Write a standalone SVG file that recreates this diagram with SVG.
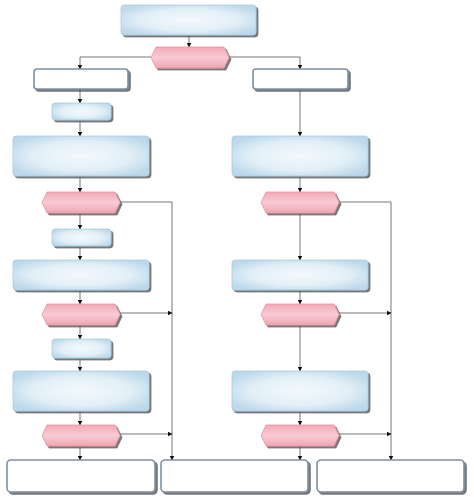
<svg xmlns="http://www.w3.org/2000/svg" width="474" height="497" viewBox="0 0 474 497">
<defs>
<radialGradient id="gb" cx="50%" cy="50%" r="60%">
<stop offset="0" stop-color="#f3f9fc"/>
<stop offset="0.6" stop-color="#e2eff7"/>
<stop offset="1" stop-color="#bcd8ea"/>
</radialGradient>
<linearGradient id="gp" x1="0" y1="0" x2="0" y2="1">
<stop offset="0" stop-color="#f2a9b6"/>
<stop offset="0.5" stop-color="#f8cbd3"/>
<stop offset="1" stop-color="#f0a5b2"/>
</linearGradient>
<filter id="sh" x="-10%" y="-20%" width="130%" height="150%">
<feDropShadow dx="2" dy="2" stdDeviation="0.7" flood-color="#4a4a4a" flood-opacity="0.75"/>
</filter>
<marker id="ar" markerUnits="userSpaceOnUse" markerWidth="5" markerHeight="5" refX="4.5" refY="2.5" orient="auto">
<path d="M0,0 L5,2.5 L0,5 Z" fill="#111"/>
</marker>
</defs>
<style>
.b{fill:url(#gb);stroke:#a8cbe0;stroke-width:0.8;filter:url(#sh)}
.p{fill:url(#gp);stroke:#e596a5;stroke-width:0.8;filter:url(#sh)}
.w{fill:#fff;stroke:#7c8fa4;stroke-width:1.6;filter:url(#sh)}
.c path{fill:none;stroke:#777;stroke-width:1}
.c .a{marker-end:url(#ar)}
</style>
<g class="c" id="connectors">
<path class="a" d="M189,36 V47"/>
<path class="a" d="M151,57 H80 V69"/>
<path class="a" d="M229,57 H300 V69"/>
<path class="a" d="M80,90 V103"/>
<path class="a" d="M80,121 V136"/>
<path class="a" d="M300,90 V136"/>
<path class="a" d="M80,177 V192"/>
<path class="a" d="M80,214 V229"/>
<path class="a" d="M120,202 H172 V460"/>
<path class="a" d="M80,247 V260"/>
<path class="a" d="M80,291 V304"/>
<path class="a" d="M120,313 H172"/>
<path class="a" d="M80,326 V339"/>
<path class="a" d="M80,359 V371"/>
<path class="a" d="M80,412 V425"/>
<path class="a" d="M80,447 V460"/>
<path class="a" d="M120,434 H172"/>
<path class="a" d="M300,177 V192"/>
<path class="a" d="M339,202 H391 V460"/>
<path class="a" d="M300,214 V260"/>
<path class="a" d="M300,291 V304"/>
<path class="a" d="M339,313 H391"/>
<path class="a" d="M300,326 V371"/>
<path class="a" d="M300,412 V425"/>
<path class="a" d="M300,447 V460"/>
<path class="a" d="M339,434 H391"/>
</g>
<g id="top"><rect class="b" x="121" y="5" width="135" height="30" rx="3"/></g>
<g id="hex1"><path class="p" d="M156,47 H224 L229,57.5 L224,68 H156 L151,57.5 Z"/></g>
<g id="wL1"><rect class="w" x="34" y="69" width="94" height="20" rx="3"/></g>
<g id="wR1"><rect class="w" x="253" y="69" width="95" height="20" rx="3"/></g>
<g id="sL1"><rect class="b" x="52" y="103" width="59" height="17" rx="3"/></g>
<g id="bL1"><rect class="b" x="13" y="136" width="136" height="40" rx="3"/></g>
<g id="bR1"><rect class="b" x="232" y="136" width="136" height="40" rx="3"/></g>
<g id="hL2"><path class="p" d="M47,192 H115 L120,202.5 L115,213 H47 L42,202.5 Z"/></g>
<g id="hR2"><path class="p" d="M266,192 H334 L339,202.5 L334,213 H266 L261,202.5 Z"/></g>
<g id="sL2"><rect class="b" x="52" y="229" width="59" height="17" rx="3"/></g>
<g id="bL2"><rect class="b" x="13" y="260" width="136" height="30" rx="3"/></g>
<g id="bR2"><rect class="b" x="232" y="260" width="136" height="30" rx="3"/></g>
<g id="hL3"><path class="p" d="M47,304 H115 L120,314.5 L115,325 H47 L42,314.5 Z"/></g>
<g id="hR3"><path class="p" d="M266,304 H334 L339,314.5 L334,325 H266 L261,314.5 Z"/></g>
<g id="sL3"><rect class="b" x="52" y="339" width="59" height="19" rx="3"/></g>
<g id="bL3"><rect class="b" x="13" y="371" width="136" height="40" rx="3"/></g>
<g id="bR3"><rect class="b" x="232" y="371" width="136" height="40" rx="3"/></g>
<g id="hL4"><path class="p" d="M47,425 H115 L120,435.5 L115,446 H47 L42,435.5 Z"/></g>
<g id="hR4"><path class="p" d="M266,425 H334 L339,435.5 L334,446 H266 L261,435.5 Z"/></g>
<g id="outL"><rect class="w" x="7" y="460" width="148" height="32" rx="4"/></g>
<g id="outM"><rect class="w" x="161" y="460" width="147" height="32" rx="4"/></g>
<g id="outR"><rect class="w" x="317" y="460" width="147" height="32" rx="4"/></g>
</svg>
